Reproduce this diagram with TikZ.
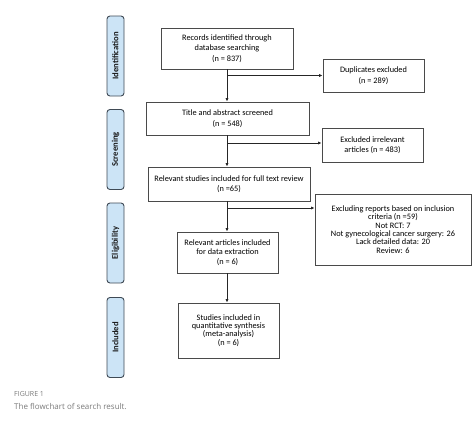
\documentclass[tikz,border=0pt]{standalone}
\usepackage{fontspec}
\setmainfont{Carlito}
\newfontfamily\capfont{Open Sans}
\usetikzlibrary{arrows.meta,positioning}
\definecolor{sidefill}{HTML}{CCE4F6}
\definecolor{sidedraw}{HTML}{3F4A55}
\definecolor{boxdraw}{HTML}{4A4A4A}
\definecolor{capgray}{HTML}{7A7A7A}
\tikzset{
  box/.style={draw=boxdraw, line width=0.9pt, align=center, inner sep=1pt,
    font=\fontsize{8.3}{10.5}\selectfont, text=black},
  tight/.style={font=\fontsize{8.3}{8.3}\selectfont},
  mid/.style={font=\fontsize{8.3}{9.2}\selectfont},
  side/.style={draw=sidedraw, fill=sidefill, line width=0.9pt, rounded corners=3pt,
    rotate=90, minimum height=17pt, minimum width=80pt, inner sep=0pt,
    font=\fontsize{8.6}{9}\selectfont\bfseries, text=black!90},
  conn/.style={draw=black!85, line width=0.9pt},
  arr/.style={conn, -{Latex[length=3.5pt,width=3.2pt]}},
}
\begin{document}
\begin{tikzpicture}[x=1pt,y=-1pt]
\useasboundingbox (0,0) rectangle (474,423);
% side labels
\node[side] (s1) at (115.5,56) {Identification};
\node[side] (s2) at (115.5,149.5) {Screening};
\node[side] (s3) at (115.5,243) {Eligibility};
\node[side] (s4) at (115.5,337.5) {Included};
% main boxes
\node[box, minimum width=132pt, minimum height=41pt] (b1) at (227,48.5)
  {Records identified through\\database searching\\(n = 837)};
\node[box, minimum width=163pt, minimum height=33pt] (b2) at (227.5,118.5)
  {Title and abstract screened\\(n = 548)};
\node[box, minimum width=162pt, minimum height=34pt] (b3) at (229,184)
  {Relevant studies included for full text review\\(n =65)};
\node[box, mid, minimum width=101pt, minimum height=41pt] (b4) at (227.5,252.5)
  {Relevant articles included\\for data extraction\\(n = 6)};
\node[box, tight, minimum width=101pt, minimum height=55pt] (b5) at (228.5,330.5)
  {Studies included in\\quantitative synthesis\\(meta-analysis)\\(n = 6)};
% exclusion boxes
\node[box, minimum width=101pt, minimum height=33pt] (e1) at (373.5,75.5)
  {Duplicates excluded\\(n = 289)};
\node[box, minimum width=101pt, minimum height=34pt] (e2) at (372.5,145)
  {Excluded irrelevant\\articles (n = 483)};
\node[box, tight, minimum width=156pt, minimum height=71pt] (e3) at (393,229.5)
  {Excluding reports based on inclusion\\criteria (n =59)\\Not RCT: 7\\Not gynecological cancer surgery: 26\\Lack detailed data: 20\\Review: 6};
% branch points
\coordinate (j1) at (227,75.5);
\coordinate (j2) at (227,143);
\coordinate (j3) at (227,208);
% connectors
\draw[arr] (b1.south -| j1) -- (b2.north -| j1);
\draw[arr] (b2.south -| j2) -- (b3.north -| j2);
\draw[arr] (b3.south -| j3) -- (b4.north -| j3);
\draw[arr] (b4.south -| j3) -- (b5.north -| j3);
\draw[arr] (j1) -- (e1.west);
\draw[arr] (j2) -- (j2 -| e2.west);
\draw[arr] (j3) -- (j3 -| e3.west);
% caption
\node[anchor=base west, inner sep=0pt, font=\capfont\fontsize{7}{7}\selectfont, text=capgray] (c1) at (14,396) {FIGURE 1};
\node[anchor=base west, inner sep=0pt, font=\capfont\fontsize{8}{8}\selectfont, text=capgray] (c2) at (14,409) {The flowchart of search result.};
\end{tikzpicture}
\end{document}
